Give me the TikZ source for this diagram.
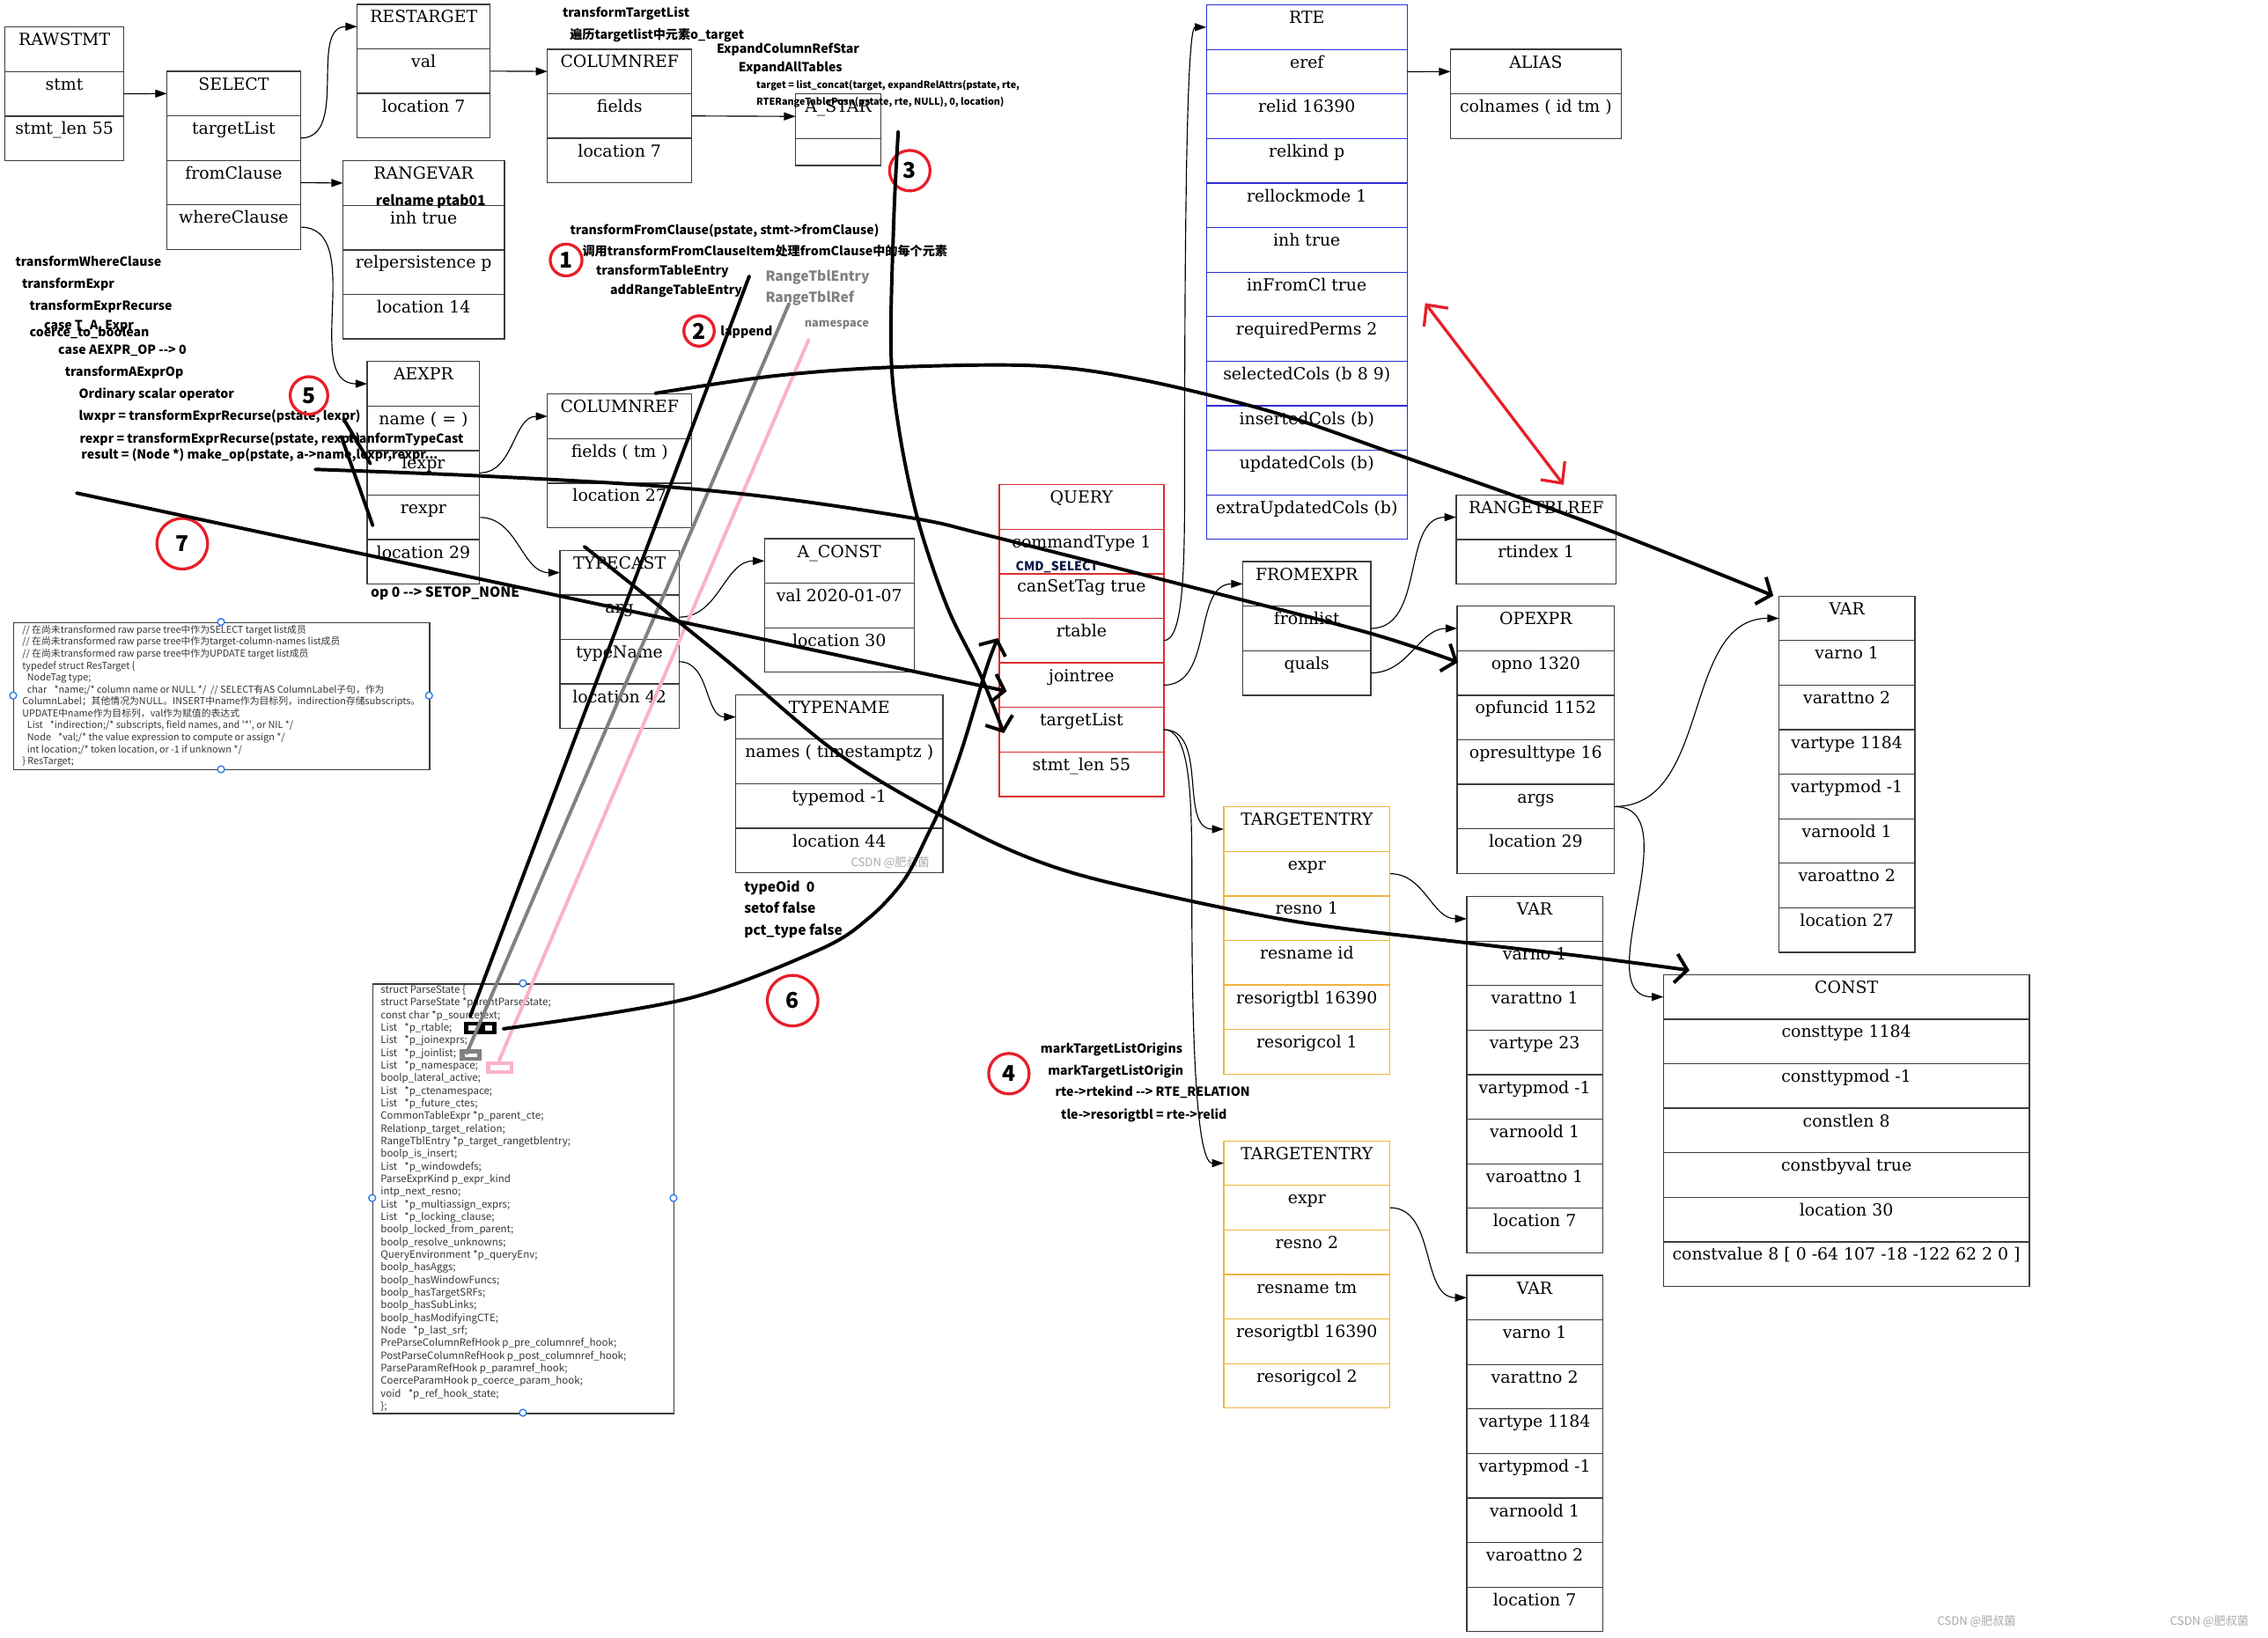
\documentclass[tikz,border=0pt]{standalone}
\usepackage{fontspec}
\setmainfont{DejaVu Serif}
\newfontfamily\ann{Noto Sans CJK SC}
\usetikzlibrary{arrows.meta,calc}
\definecolor{qred}{RGB}{220,45,45}
\definecolor{rteblue}{RGB}{45,45,215}
\definecolor{teorange}{RGB}{240,180,60}
\definecolor{boxgray}{RGB}{60,60,60}
\definecolor{annred}{RGB}{232,30,40}
\definecolor{lgray}{RGB}{128,128,128}
\definecolor{lpink}{RGB}{250,178,200}
\definecolor{wmgray}{RGB}{170,170,170}
\definecolor{txtgray}{RGB}{55,55,55}
\definecolor{navy}{RGB}{10,20,70}
\definecolor{handleblue}{RGB}{40,120,230}
\newcommand\darr{-\kern0pt-\kern0pt>}
\newcommand\recbox[6]{%
  \pgfmathsetmacro\rbw{#3-#2}%
  \pgfmathsetmacro\rbxc{(#2+#3)/2}%
  \foreach \lab [count=\i] in {#6} {%
    \pgfmathsetmacro\rbyc{#4+(\i-0.5)*30.8}%
    \pgfmathsetmacro\rbyb{#4+(\i-1)*30.8+12.8}%
    \node[recrow, draw=#5, minimum width=\rbw pt] (#1-\i) at (\rbxc,\rbyc) {};
    \node[rectext] at (\rbxc,\rbyb) {\lab};
  }%
}
\tikzset{
  recrow/.style={rectangle, inner sep=0pt, outer sep=0pt, minimum height=30.8pt, line width=0.8pt},
  rectext/.style={anchor=base, inner sep=0pt, font=\fontsize{11.5}{13}\selectfont},
  gedge/.style={draw=black, line width=0.7pt, -{Triangle[length=8pt,width=5.5pt]}},
  annot/.style={anchor=base west, inner sep=0pt, font=\ann\bfseries\fontsize{8.6}{10}\selectfont},
  annotsm/.style={annot, font=\ann\bfseries\fontsize{6.6}{8}\selectfont},
  annotbig/.style={annot, font=\ann\bfseries\fontsize{9.5}{11}\selectfont},
  annotgray/.style={annotbig, text=lgray},
  annotgraysm/.style={annot, text=lgray, font=\ann\bfseries\fontsize{7.8}{9}\selectfont},
  circ/.style={circle, draw=annred, line width=2pt, inner sep=0pt, font=\ann\bfseries\fontsize{15}{15}\selectfont},
  hand/.style={line width=2.4pt, line cap=round, line join=round},
  handarrow/.style={hand, -{Straight Barb[length=8pt,width=20pt]}},
  redarrow/.style={draw=annred, line width=2pt, {Straight Barb[length=11pt,width=21pt]}-{Straight Barb[length=11pt,width=21pt]}},
  codebox/.style={draw=boxgray, line width=0.9pt, inner sep=0pt, anchor=north west},
  codeA/.style={anchor=base west, inner sep=0pt, text=txtgray, font=\ann\fontsize{6.6}{8}\selectfont},
  codeB/.style={anchor=base west, inner sep=0pt, text=txtgray, font=\ann\fontsize{7}{8}\selectfont},
  handle/.style={draw=handleblue, fill=white, line width=0.8pt},
  wm/.style={inner sep=0pt, text=wmgray, font=\ann\fontsize{8}{9}\selectfont}
}
\begin{document}
\begin{tikzpicture}[x=1pt,y=-1pt]
\fill[white] (0,0) rectangle (1568,1132.2);
\useasboundingbox (0,0) rectangle (1568,1132.2);

% ---------- record boxes ----------
\recbox{raw}{3.5}{85.5}{18.7}{boxgray}{RAWSTMT,stmt,stmt\_len 55}
\recbox{sel}{115.3}{207.8}{49.3}{boxgray}{SELECT,targetList,fromClause,whereClause}
\recbox{rest}{246.9}{338.9}{3}{boxgray}{RESTARGET,val,location 7}
\recbox{rv}{237.1}{348.7}{111.2}{boxgray}{RANGEVAR,inh true,relpersistence p,location 14}
\recbox{cra}{378.5}{478.2}{34}{boxgray}{COLUMNREF,fields,location 7}
\recbox{ae}{253.9}{331.6}{250}{boxgray}{AEXPR,name ( = ),lexpr,rexpr,location 29}
\recbox{crb}{378.5}{478.2}{272.5}{boxgray}{COLUMNREF,fields ( tm ),location 27}
\recbox{tc}{387.1}{469.5}{380.6}{boxgray}{TYPECAST,arg,typeName,location 42}
\recbox{ac}{528.5}{632}{372.5}{boxgray}{A\_CONST,val 2020-01-07,location 30}
\recbox{tn}{508.6}{651.9}{480.4}{boxgray}{TYPENAME,names ( timestamptz ),typemod -1,location 44}
\recbox{q}{690.8}{804.6}{335.2}{qred}{QUERY,commandType 1,canSetTag true,rtable,jointree,targetList,stmt\_len 55}
\recbox{rte}{834}{972.9}{3.4}{rteblue}{RTE,eref,relid 16390,relkind p,rellockmode 1,inh true,inFromCl true,requiredPerms 2,selectedCols (b 8 9),insertedCols (b),updatedCols (b),extraUpdatedCols (b)}
\recbox{al}{1002.8}{1120.8}{34.1}{boxgray}{ALIAS,colnames ( id tm )}
\recbox{fe}{859.2}{947.7}{388.4}{boxgray}{FROMEXPR,fromlist,quals}
\recbox{rtr}{1006.7}{1117.3}{342.3}{boxgray}{RANGETBLREF,rtindex 1}
\recbox{op}{1007.4}{1116.1}{419.2}{boxgray}{OPEXPR,opno 1320,opfuncid 1152,opresulttype 16,args,location 29}
\recbox{vt}{1229.9}{1323.8}{412.2}{boxgray}{VAR,varno 1,varattno 2,vartype 1184,vartypmod -1,varnoold 1,varoattno 2,location 27}
\recbox{tea}{846}{961}{558}{teorange}{TARGETENTRY,expr,resno 1,resname id,resorigtbl 16390,resorigcol 1}
\recbox{vm}{1014}{1108}{620}{boxgray}{VAR,varno 1,varattno 1,vartype 23,vartypmod -1,varnoold 1,varoattno 1,location 7}
\recbox{cst}{1150}{1403}{674}{boxgray}{CONST,consttype 1184,consttypmod -1,constlen 8,constbyval true,location 30,constvalue 8 [ 0 -64 107 -18 -122 62 2 0 ]}
\recbox{teb}{846}{961}{789}{teorange}{TARGETENTRY,expr,resno 2,resname tm,resorigtbl 16390,resorigcol 2}
\recbox{vb}{1014}{1108}{882}{boxgray}{VAR,varno 1,varattno 2,vartype 1184,vartypmod -1,varnoold 1,varoattno 2,location 7}
% A_STAR
\node[recrow, draw=boxgray, minimum width=59pt, minimum height=31pt] (astar-1) at (579.5,80.5) {};
\node[recrow, draw=boxgray, minimum width=59pt, minimum height=18.5pt] (astar-2) at (579.5,105.25) {};
\node[rectext] at (579.5,77.8) {A\_STAR};

% ---------- graph edges ----------
\draw[gedge] (raw-2.east) -- (sel-1.west);
\draw[gedge] (sel-2.east) to[out=0,in=180] (rest-1.west);
\draw[gedge] (sel-3.east) -- (rv-1.west);
\draw[gedge] (sel-4.east) to[out=0,in=180] (ae-1.west);
\draw[gedge] (rest-2.east) -- (cra-1.west);
\draw[gedge] (cra-2.east) -- (astar-1.west);
\draw[gedge] (ae-3.east) to[out=0,in=180] (crb-1.west);
\draw[gedge] (ae-4.east) to[out=0,in=180] (tc-1.west);
\draw[gedge] (tc-2.east) to[out=0,in=180] (ac-1.west);
\draw[gedge] (tc-3.east) to[out=0,in=180] (tn-1.west);
\draw[gedge] (q-4.east) .. controls +(14,0) and +(0,60) .. (819,330) .. controls +(0,-150) and +(-14,0) .. (rte-1.west);
\draw[gedge] (q-5.east) to[out=0,in=180] (fe-1.west);
\draw[gedge] (q-6.east) to[out=0,in=180] (tea-1.west);
\draw[gedge] (q-6.east) .. controls +(20,0) and +(0,-60) .. (824,620) .. controls +(0,80) and +(-20,0) .. (teb-1.west);
\draw[gedge] (rte-2.east) -- (al-1.west);
\draw[gedge] (fe-2.east) to[out=0,in=180] (rtr-1.west);
\draw[gedge] (fe-3.east) to[out=0,in=180] (op-1.west);
\draw[gedge] (op-5.east) to[out=0,in=180] (vt-1.west);
\draw[gedge] (op-5.east) to[out=0,in=180] (cst-1.west);
\draw[gedge] (tea-2.east) to[out=0,in=180] (vm-1.west);
\draw[gedge] (teb-2.east) to[out=0,in=180] (vb-1.west);

% ---------- code boxes ----------
\node[codebox, minimum width=287.5pt, minimum height=101.9pt] (restbox) at (9.1,430.1) {};
\node[codeA] at (15.2,437.9) {// 在尚未transformed raw parse tree中作为SELECT target list成员};
\node[codeA] at (15.2,446.16) {// 在尚未transformed raw parse tree中作为target-column-names list成员};
\node[codeA] at (15.2,454.42) {// 在尚未transformed raw parse tree中作为UPDATE target list成员};
\node[codeA] at (15.2,462.68) {typedef struct ResTarget \{};
\node[codeA] at (18.6,470.94) {NodeTag type;};
\node[codeA] at (18.6,479.2) {char\hspace{5pt}*name;/* column name or NULL */\hspace{3pt}// SELECT有AS ColumnLabel子句，作为};
\node[codeA] at (15.2,487.46) {ColumnLabel；其他情况为NULL。INSERT中name作为目标列，indirection存储subscripts。};
\node[codeA] at (15.2,495.72) {UPDATE中name作为目标列，val作为赋值的表达式};
\node[codeA] at (18.6,503.98) {List\hspace{5pt}*indirection;/* subscripts, field names, and \textquotesingle*\textquotesingle, or NIL */};
\node[codeA] at (18.6,512.24) {Node\hspace{5pt}*val;/* the value expression to compute or assign */};
\node[codeA] at (18.6,520.5) {int location;/* token location, or -1 if unknown */};
\node[codeA] at (15.2,528.76) {\} ResTarget;};
\foreach \p in {(152.8,430.1),(9.1,481),(296.6,481),(152.8,532)} \draw[handle] \p circle (2.4pt);

\node[codebox, minimum width=208.3pt, minimum height=297pt] (psbox) at (257.3,680) {};
\foreach \pline [count=\k] in {struct ParseState \{,struct ParseState *parentParseState;,const char *p\_sourcetext;,List\hspace{5pt}*p\_rtable;,List\hspace{5pt}*p\_joinexprs;,List\hspace{5pt}*p\_joinlist;,List\hspace{5pt}*p\_namespace;,boolp\_lateral\_active;,List\hspace{5pt}*p\_ctenamespace;,List\hspace{5pt}*p\_future\_ctes;,CommonTableExpr *p\_parent\_cte;,Relationp\_target\_relation;,RangeTblEntry *p\_target\_rangetblentry;,boolp\_is\_insert;,List\hspace{5pt}*p\_windowdefs;,ParseExprKind p\_expr\_kind,intp\_next\_resno;,List\hspace{5pt}*p\_multiassign\_exprs;,List\hspace{5pt}*p\_locking\_clause;,boolp\_locked\_from\_parent;,boolp\_resolve\_unknowns;,QueryEnvironment *p\_queryEnv;,boolp\_hasAggs;,boolp\_hasWindowFuncs;,boolp\_hasTargetSRFs;,boolp\_hasSubLinks;,boolp\_hasModifyingCTE;,Node\hspace{5pt}*p\_last\_srf;,PreParseColumnRefHook p\_pre\_columnref\_hook;,PostParseColumnRefHook p\_post\_columnref\_hook;,ParseParamRefHook p\_paramref\_hook;,CoerceParamHook p\_coerce\_param\_hook;,void\hspace{5pt}*p\_ref\_hook\_state;,\};} {
  \pgfmathsetmacro\py{687+(\k-1)*8.72}
  \node[codeB] at (263,\py) {\pline};
}
\foreach \p in {(361.5,680),(257.3,828.5),(465.6,828.5),(361.5,977)} \draw[handle] \p circle (2.4pt);
% marker rectangles in ParseState
\fill[black] (320.7,706.6) rectangle (343.3,715.2);
\fill[white] (323.6,709) rectangle (329.1,712.6);
\fill[white] (335.2,709) rectangle (340.4,712.6);
\fill[lgray] (317.5,725.3) rectangle (332.7,733.4);
\fill[white] (321.6,728.4) rectangle (329.7,730.8);
\fill[lpink] (335.8,733.8) rectangle (355,742.5);
\fill[white] (338.8,736.5) rectangle (352.6,740.1);
\coordinate (mkblack) at (325,703);
\coordinate (mkblackR) at (348,711.5);
\coordinate (mkgray) at (322.6,728.5);
\coordinate (mkpink) at (345,733.5);

% ---------- annotations ----------
\node[annot] at (388.8,11.6) {transformTargetList};
\node[annot] at (393.8,26.8) {遍历targetlist中元素o\_target};
\node[annot] at (495.3,36.9) {ExpandColumnRefStar};
\node[annot] at (510.4,49.9) {ExpandAllTables};
\node[annotsm] at (522.8,60.9) {target = list\_concat(target, expandRelAttrs(pstate, rte,};
\node[annotsm] at (522.8,73) {RTERangeTablePosn(pstate, rte, NULL), 0, location)};

\node[annot] at (394,162.2) {transformFromClause(pstate, stmt->fromClause)};
\node[annot] at (402.5,176.8) {调用transformFromClauseItem处理fromClause中的每个元素};
\node[annot] at (412,190.5) {transformTableEntry};
\node[annot] at (421.7,203.6) {addRangeTableEntry};
\node[annotgray] at (529.1,194.2) {RangeTblEntry};
\node[annotgray] at (529.1,209) {RangeTblRef};
\node[annotgraysm] at (556,226.4) {namespace};
\node[annot] at (498,232.5) {lappend};

\node[annot] at (10.5,184.2) {transformWhereClause};
\node[annot] at (15.1,199.4) {transformExpr};
\node[annot] at (20.3,214.7) {transformExprRecurse};
\node[annot] at (30.3,228.2) {case T\_A\_Expr};
\node[annot] at (20.3,232.7) {coerce\_to\_boolean};
\node[annot] at (40.1,244.9) {case AEXPR\_OP \darr{} 0};
\node[annot] at (44.7,260.1) {transformAExprOp};
\node[annot] at (54.3,275.3) {Ordinary scalar operator};
\node[annot] at (54.3,290.5) {lwxpr = transformExprRecurse(pstate, lexpr)};
\node[annot] at (54.9,306.3) {rexpr = transformExprRecurse(pstate, rexpr)};
\node[annot] at (240.6,306.3) {tranformTypeCast};
\node[annot] at (56.1,317.5) {result = (Node *) make\_op(pstate, a->name,lexpr,rexpr...};

\node[annotbig] at (259.7,142) {relname ptab01};
\node[annotbig] at (256.1,412.9) {op 0 \darr{} SETOP\_NONE};
\node[annot, text=navy] at (702,395) {CMD\_SELECT};
\node[annotbig] at (514.3,616.8) {typeOid\ \ 0};
\node[annotbig] at (514.3,631.4) {setof false};
\node[annotbig] at (514.3,646.8) {pct\_type false};
\node[annot] at (719.2,728.4) {markTargetListOrigins};
\node[annot] at (724.3,743.6) {markTargetListOrigin};
\node[annot] at (729.4,758.4) {rte->rtekind \darr{} RTE\_RELATION};
\node[annot] at (733.4,774) {tle->resorigtbl = rte->relid};

\node[wm] at (615.5,596.5) {CSDN @肥叔菌};
\node[wm] at (1366.5,1121) {CSDN @肥叔菌};
\node[wm] at (1527.5,1121) {CSDN @肥叔菌};

% ---------- numbered circles ----------
\node[circ, minimum size=22pt] (c1) at (391.4,179.8) {1};
\node[circ, minimum size=21pt] (c2) at (483.3,228.9) {2};
\node[circ, minimum size=28pt] (c3) at (629,118) {3};
\node[circ, minimum size=28pt] (c4) at (697.5,742.5) {4};
\node[circ, minimum size=26pt] (c5) at (213.6,273.5) {5};
\node[circ, minimum size=35pt] (c6) at (548,692) {6};
\node[circ, minimum size=35pt] (c7) at (126,376) {7};

% ---------- hand-drawn lines ----------
\coordinate (hbS) at (518,191);
\coordinate (hgS) at (545.5,210);
\coordinate (hpS) at (559,235);
\draw[hand] (hbS) -- (mkblack);
\draw[hand, draw=lgray] (hgS) -- (mkgray);
\draw[hand, draw=lpink] (hpS) -- (mkpink);

\coordinate (h5a) at (237.5,289.7); \coordinate (h5b) at (256,320.6);
\coordinate (h5c) at (236,302); \coordinate (h5d) at (257.7,363.4);
\draw[hand] (h5a) -- (h5b);
\draw[hand] (h5c) -- (h5d);

\coordinate (h7s) at (53,341); \coordinate (h7e) at (696,478);
\draw[handarrow] (h7s) -- (h7e);

\coordinate (h6e) at (689.8,441.3);
\draw[handarrow] plot[smooth, tension=0.55] coordinates {(mkblackR) (474.7,690.8) (566,657) (600.5,635) (625,608.6) (641,578) (653,552) (666,515) (682,462) (h6e)};

\coordinate (h3s) at (621,91); \coordinate (h3e) at (694,507);
\draw[handarrow] plot[smooth, tension=0.55] coordinates {(h3s) (618,150) (616,243) (622,300) (635,361) (655,420) (678,467) (h3e)};

\coordinate (hoS) at (218,324.6); \coordinate (hoE) at (1008,458);
\draw[handarrow] plot[smooth, tension=0.55] coordinates {(hoS) (330,329) (453,336) (542,345) (635,359) (682,370) (816,404) (946,437.6) (hoE)};

\coordinate (hvS) at (453,272); \coordinate (hvE) at (1226,412);
\draw[handarrow] plot[smooth, tension=0.55] coordinates {(hvS) (535,260) (616,254) (718,253) (791,263) (880,285) (962,313) (1100,362) (hvE)};

\coordinate (hcS) at (404,378); \coordinate (hcE) at (1168,671);
\draw[handarrow] plot[smooth, tension=0.55] coordinates {(hcS) (499,454) (582,523) (669.5,574) (730,600) (800,618) (900,638) (1014,652) (1100,662) (hcE)};

\coordinate (rA) at (985.3,209.6); \coordinate (rB) at (1081,335.3);
\draw[redarrow] (rA) -- (rB);
\end{tikzpicture}
\end{document}
